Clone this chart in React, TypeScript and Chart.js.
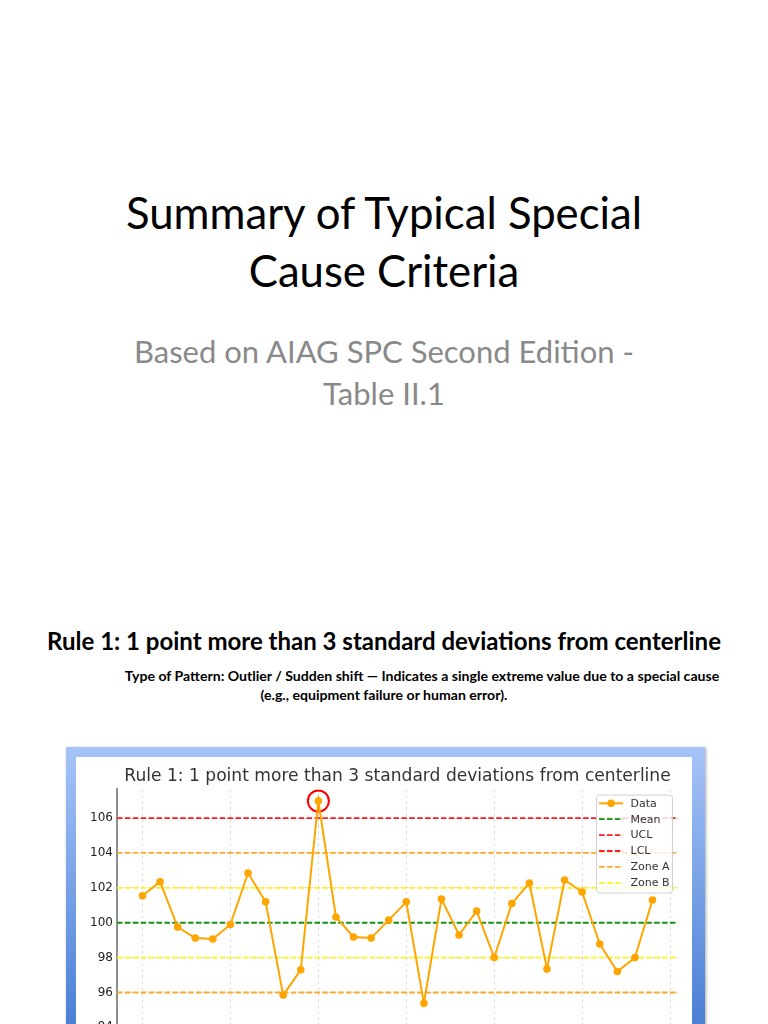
import React, { useEffect, useRef } from "react";
import { Chart, registerables } from "chart.js";

Chart.register(...registerables);

// ---- data ----
const SAMPLE_INDEX = [0, 1, 2, 3, 4, 5, 6, 7, 8, 9, 10, 11, 12, 13, 14, 15, 16, 17, 18, 19, 20, 21, 22, 23, 24, 25, 26, 27, 28, 29];
const DATA_VALUES = [101.55, 102.35, 99.75, 99.12, 99.07, 99.9, 102.85, 101.2, 95.85, 97.3, 106.98, 100.33, 99.18, 99.12, 100.15, 101.2, 95.38, 101.36, 99.3, 100.67, 98.0, 101.1, 102.28, 97.35, 102.45, 101.76, 98.78, 97.2, 98.0, 101.3];
const MEAN_LINE = [100];
const UCL_LINE = [106];
const LCL_LINE = [94];
const ZONE_A_LINES = [104, 96];
const ZONE_B_LINES = [102, 98];
const OUTLIER_INDEX = [10];
const Y_TICKS = [94, 96, 98, 100, 102, 104, 106];
const X_TICKS = [0, 5, 10, 15, 20, 25, 30];
const X_LIMITS = [-1.45, 30.45];
const Y_LIMITS = [93.35, 107.65];
const LEGEND_LABELS = ["Data", "Mean", "UCL", "LCL", "Zone A", "Zone B"];
const CHART_TITLE = "Rule 1: 1 point more than 3 standard deviations from centerline";

const hline = (values: number[]) => {
  const pts: { x: number; y: number | null }[] = [];
  values.forEach((v, i) => {
    if (i > 0) pts.push({ x: X_LIMITS[1], y: null });
    pts.push({ x: X_LIMITS[0], y: v });
    pts.push({ x: X_LIMITS[1], y: v });
  });
  return pts;
};

const DASH = [5.5, 2.4];

const legendPlugin = {
  id: "boxLegend",
  afterDraw(chart: any) {
    const { ctx, chartArea } = chart;
    const items = chart.data.datasets.filter((d: any) => d.inLegend);
    const w = 76;
    const h = 98;
    const right = chartArea.right - 5.5;
    const top = chartArea.top + 5.7;
    const left = right - w;
    ctx.save();
    ctx.beginPath();
    const r = 3;
    ctx.moveTo(left + r, top);
    ctx.lineTo(left + w - r, top);
    ctx.quadraticCurveTo(left + w, top, left + w, top + r);
    ctx.lineTo(left + w, top + h - r);
    ctx.quadraticCurveTo(left + w, top + h, left + w - r, top + h);
    ctx.lineTo(left + r, top + h);
    ctx.quadraticCurveTo(left, top + h, left, top + h - r);
    ctx.lineTo(left, top + r);
    ctx.quadraticCurveTo(left, top, left + r, top);
    ctx.closePath();
    ctx.fillStyle = "rgba(255,255,255,0.8)";
    ctx.fill();
    ctx.strokeStyle = "rgba(204,204,204,0.9)";
    ctx.lineWidth = 1;
    ctx.stroke();
    items.forEach((ds: any, i: number) => {
      const y = top + 8.3 + i * 15.9;
      ctx.strokeStyle = ds.borderColor;
      ctx.lineWidth = ds.borderWidth;
      ctx.setLineDash(ds.borderDash || []);
      ctx.beginPath();
      ctx.moveTo(left + 2.6, y);
      ctx.lineTo(left + 26.6, y);
      ctx.stroke();
      ctx.setLineDash([]);
      if (ds.pointRadius > 0) {
        ctx.beginPath();
        ctx.arc(left + 14.6, y, ds.pointRadius, 0, Math.PI * 2);
        ctx.fillStyle = ds.pointBackgroundColor;
        ctx.fill();
      }
      ctx.fillStyle = "#333";
      ctx.font = "11px 'DejaVu Sans'";
      ctx.textBaseline = "middle";
      ctx.textAlign = "left";
      ctx.fillText(ds.label, left + 34, y + 0.5);
    });
    ctx.restore();
  },
};

function ControlChart() {
  const ref = useRef<HTMLCanvasElement | null>(null);
  useEffect(() => {
    if (!ref.current) return;
    const lineStyle = (label: string, values: number[], color: string) => ({
      label,
      inLegend: true,
      data: hline(values),
      borderColor: color,
      borderWidth: 1.8,
      borderDash: DASH,
      pointRadius: 0,
      spanGaps: false,
      order: 2,
    });
    const chart = new Chart(ref.current, {
      type: "line",
      data: {
        datasets: [
          {
            label: LEGEND_LABELS[0],
            inLegend: true,
            data: SAMPLE_INDEX.map((x, i) => ({ x, y: DATA_VALUES[i] })),
            borderColor: "#FFA500",
            backgroundColor: "#FFA500",
            pointBackgroundColor: "#FFA500",
            pointBorderColor: "#FFA500",
            borderWidth: 2,
            pointRadius: 3.8,
            pointBorderWidth: 0,
            tension: 0,
            order: 0,
          },
          {
            label: "outlier",
            inLegend: false,
            data: OUTLIER_INDEX.map((i) => ({ x: SAMPLE_INDEX[i], y: DATA_VALUES[i] })),
            showLine: false,
            pointRadius: 10.5,
            pointBorderWidth: 2,
            pointBorderColor: "#FF0000",
            pointBackgroundColor: "rgba(0,0,0,0)",
            borderColor: "#FF0000",
            order: 1,
          },
          lineStyle(LEGEND_LABELS[1], MEAN_LINE, "#119211"),
          lineStyle(LEGEND_LABELS[2], UCL_LINE, "#FF1a1a"),
          lineStyle(LEGEND_LABELS[3], LCL_LINE, "#FF1a1a"),
          lineStyle(LEGEND_LABELS[4], ZONE_A_LINES, "#FFA726"),
          lineStyle(LEGEND_LABELS[5], ZONE_B_LINES, "#FFF21a"),
        ] as any,
      },
      options: {
        animation: false,
        responsive: false,
        devicePixelRatio: 1,
        layout: { padding: { top: 0, right: 14, bottom: 0, left: 0 } },
        plugins: {
          legend: { display: false },
          tooltip: { enabled: false },
          title: {
            display: true,
            text: CHART_TITLE,
            fullSize: false,
            color: "#333",
            font: { family: "'DejaVu Sans'", size: 17.1, weight: "normal" },
            padding: { top: 9.0, bottom: 2.8 },
          },
        },
        scales: {
          x: {
            type: "linear",
            min: X_LIMITS[0],
            max: X_LIMITS[1],
            afterBuildTicks: (axis: any) => {
              axis.ticks = X_TICKS.map((v) => ({ value: v }));
            },
            afterFit: (s: any) => {
              s.height = 48.3;
            },
            grid: { color: "rgba(0,0,0,0.13)", lineWidth: 1, drawTicks: false },
            border: { display: false, dash: [3, 3] },
            ticks: { color: "#222", font: { family: "'DejaVu Sans'", size: 12 }, padding: 4 },
          },
          y: {
            type: "linear",
            min: Y_LIMITS[0],
            max: Y_LIMITS[1],
            afterBuildTicks: (axis: any) => {
              axis.ticks = Y_TICKS.map((v) => ({ value: v }));
            },
            afterFit: (s: any) => {
              s.width = 41;
            },
            grid: { color: "rgba(0,0,0,0.13)", lineWidth: 1, drawTicks: false },
            border: { display: true, color: "#8f8f8f", width: 2, dash: [3, 3] },
            ticks: { color: "#222", font: { family: "'DejaVu Sans'", size: 12 }, padding: 4 },
          },
        },
      } as any,
      plugins: [legendPlugin],
    });
    return () => chart.destroy();
  }, []);
  return <canvas ref={ref} width={616} height={330} style={{ display: "block", width: 616, height: 330 }} />;
}

const abs = (top: number, extra: React.CSSProperties = {}): React.CSSProperties => ({
  position: "absolute",
  left: 0,
  width: 768,
  top,
  textAlign: "center",
  whiteSpace: "nowrap",
  ...extra,
});

export default function App() {
  return (
    <div
      style={{
        position: "absolute",
        left: 0,
        top: 0,
        width: 768,
        height: 1024,
        overflow: "hidden",
        background: "#fff",
        fontFamily: "Lato, 'Open Sans', sans-serif",
      }}
    >
      <div style={abs(185.5, { fontSize: 43.7, lineHeight: 1.2, color: "#000" })}>Summary of Typical Special</div>
      <div style={abs(243.5, { fontSize: 43.7, lineHeight: 1.2, color: "#000" })}>Cause Criteria</div>
      <div style={abs(333, { fontSize: 31, lineHeight: 1.2, color: "#898989" })}>Based on AIAG SPC Second Edition -</div>
      <div style={abs(375, { fontSize: 31, lineHeight: 1.2, color: "#898989" })}>Table II.1</div>
      <div style={abs(626.6, { fontSize: 24, lineHeight: 1.2, color: "#000", fontWeight: 700 })}>
        Rule 1: 1 point more than 3 standard deviations from centerline
      </div>
      <div style={abs(667.5, { width: 844, fontSize: 14.1, lineHeight: 1.2, color: "#000", fontWeight: 700 })}>
        Type of Pattern: Outlier / Sudden shift — Indicates a single extreme value due to a special cause
      </div>
      <div style={abs(686.5, { fontSize: 14.1, lineHeight: 1.2, color: "#000", fontWeight: 700 })}>
        (e.g., equipment failure or human error).
      </div>
      <div
        style={{
          position: "absolute",
          left: 66,
          top: 747,
          width: 639,
          height: 400,
          background: "linear-gradient(180deg, #a6c4f8 0px, #4a7fd5 280px, #3f75cf 400px)",
          boxShadow: "1px 1px 3px rgba(0,0,0,0.35)",
        }}
      >
        <div style={{ position: "absolute", left: 10, top: 10, width: 616, height: 380, background: "#fff" }}>
          <ControlChart />
        </div>
      </div>
    </div>
  );
}
